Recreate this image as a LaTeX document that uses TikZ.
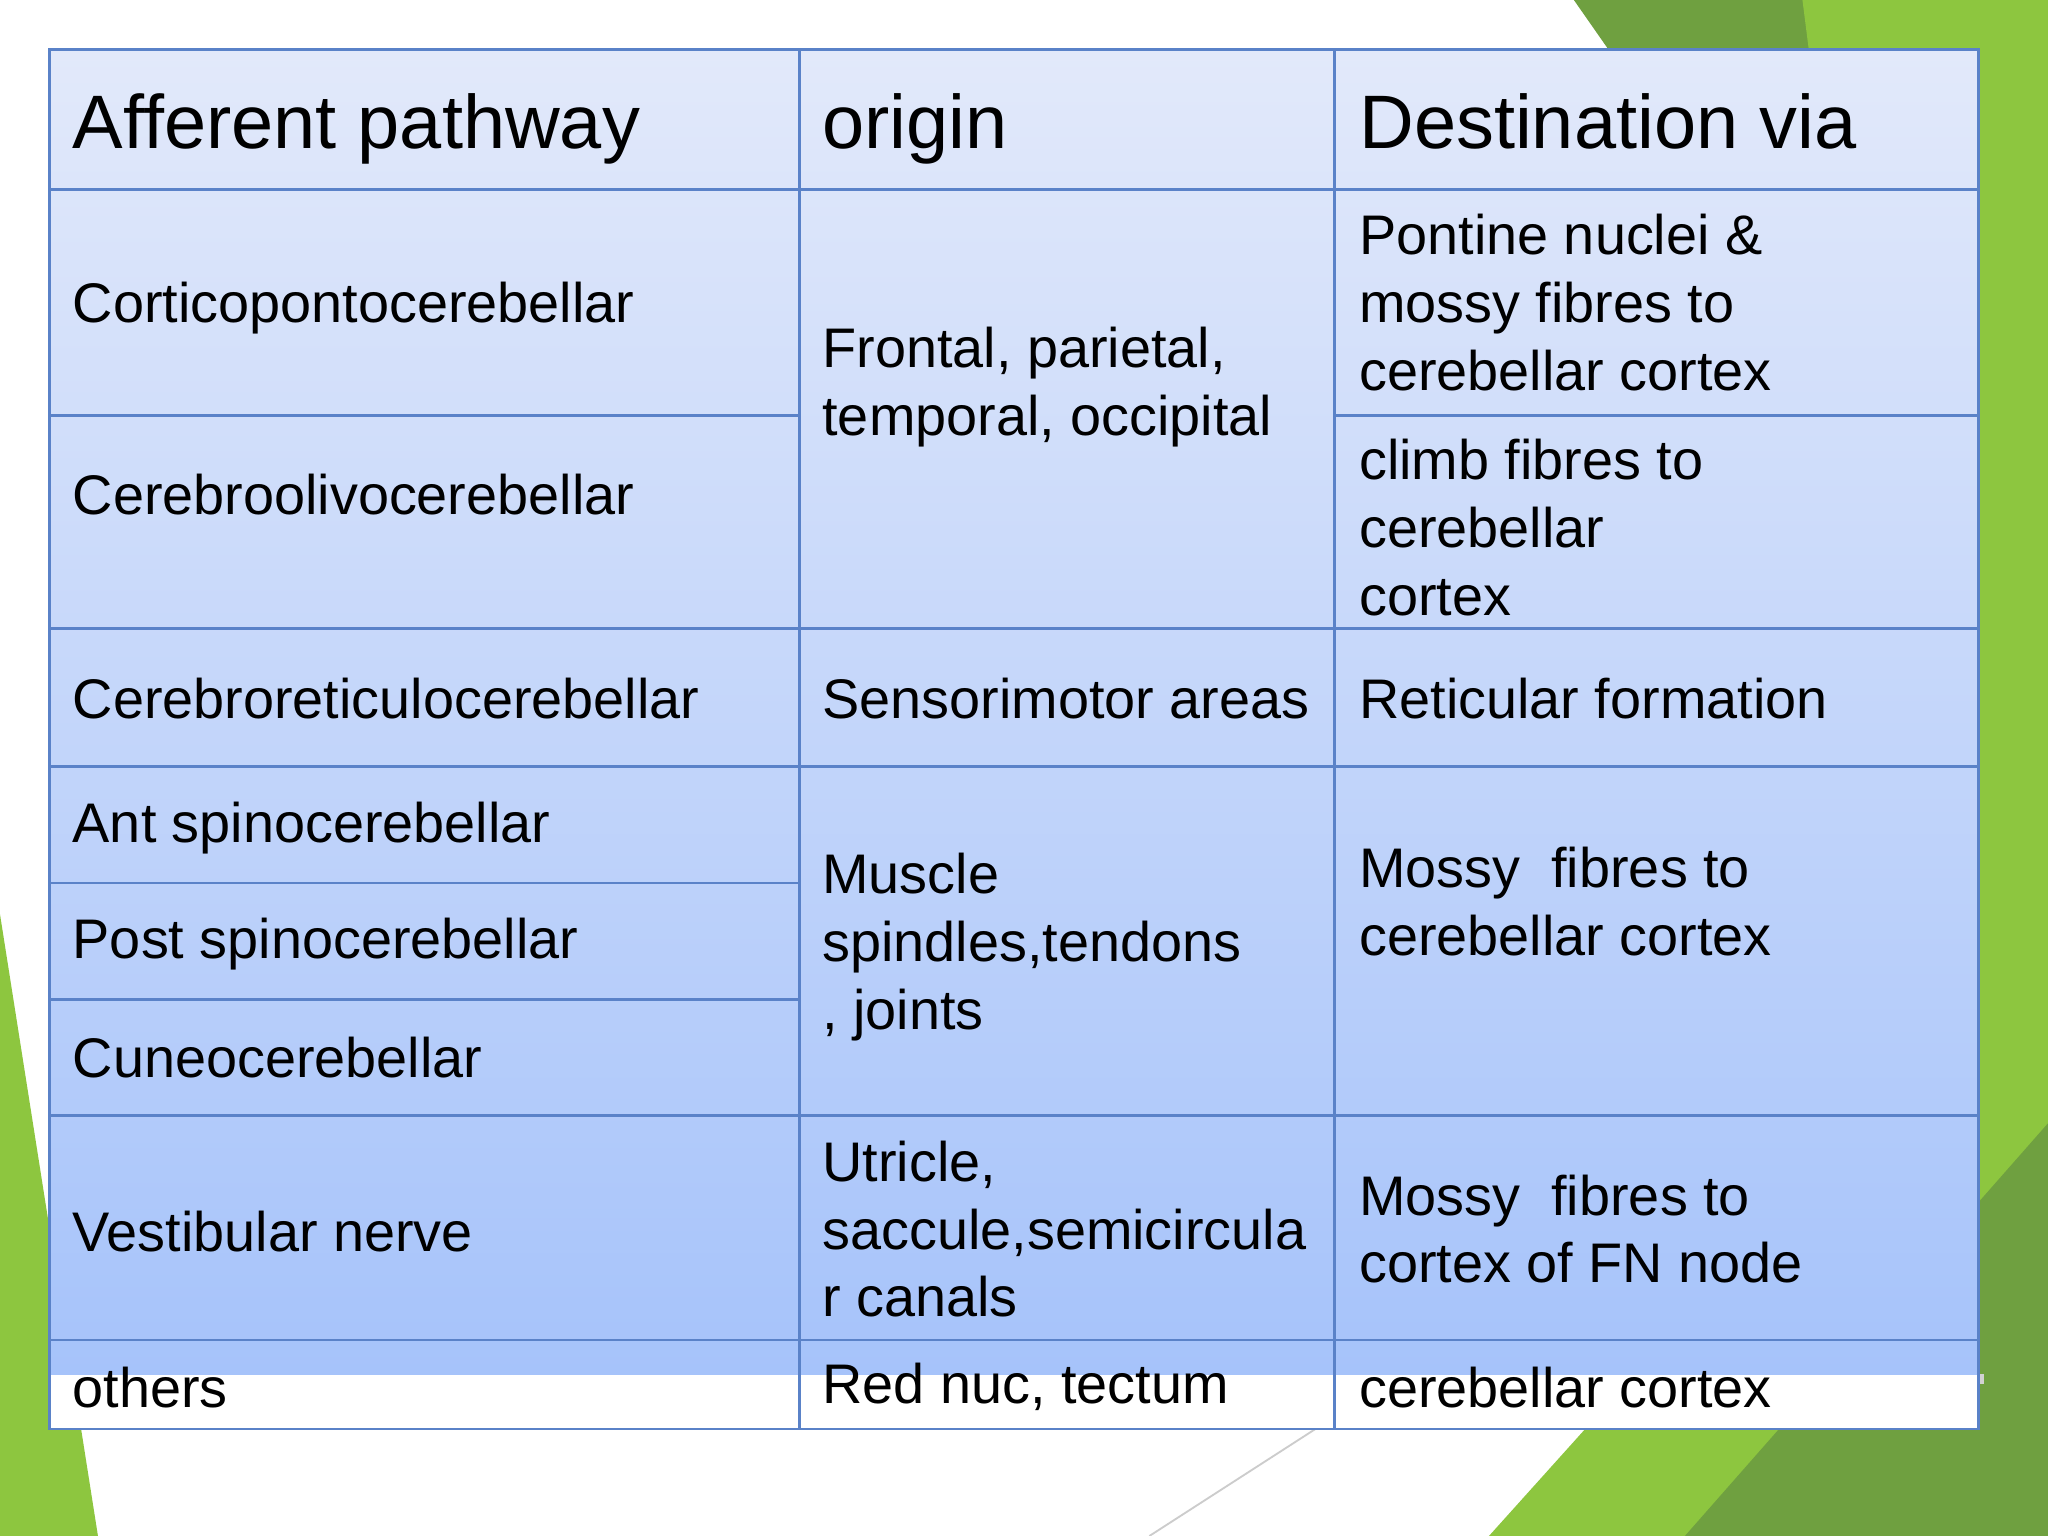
\documentclass[tikz,border=0pt]{standalone}
\usepackage{fontspec}
\setmainfont{Liberation Sans}
\begin{document}
\begin{tikzpicture}[x=0.01cm,y=-0.01cm,
  grid/.style={draw=gridblue,line width=0.6pt},
  hd/.style={anchor=base west,inner sep=0pt,font=\fontsize{16.5pt}{19pt}\selectfont},
  bd/.style={anchor=west,inner sep=0pt,align=left,font=\fontsize{12.15pt}{14.8pt}\selectfont}]
\definecolor{gridblue}{HTML}{5A82C8}
\definecolor{gA}{HTML}{8DC63F}
\definecolor{gB}{HTML}{6FA040}
\useasboundingbox (0,0) rectangle (1568,1176);
\fill[white] (0,0) rectangle (1568,1176);
% green decorations
\fill[gB] (1205,0) -- (1568,0) -- (1568,520) -- cycle;
\fill[gA] (1380,0) -- (1568,0) -- (1568,1176) -- (1530,1176) -- cycle;
\fill[gA] (1140,1176) -- (1568,700) -- (1568,1176) -- cycle;
\fill[gB] (1290,1176) -- (1568,860) -- (1568,1176) -- cycle;
\fill[gA] (0,700) -- (75,1176) -- (0,1176) -- cycle;
\draw[gray!40,line width=0.4pt] (880,1176) -- (1060,1060);
% table
\fill[gray!35] (42,1052) rectangle (1519,1060);
\fill[white] (38,1052) rectangle (1515,1094);
\shade[top color={rgb,255:red,226;green,233;blue,250},bottom color={rgb,255:red,166;green,195;blue,250}] (38,38) rectangle (1515,1052);
\draw[grid] (38,38) rectangle (1515,1094);
\draw[grid] (612,38) -- (612,1094);
\draw[grid] (1022,38) -- (1022,1094);
\draw[grid] (38,145) -- (1515,145);
\draw[grid] (38,318) -- (612,318);
\draw[grid] (1022,318) -- (1515,318);
\draw[grid] (38,481) -- (1515,481);
\draw[grid] (38,587) -- (1515,587);
\draw[grid] (38,676) -- (612,676);
\draw[grid] (38,765) -- (612,765);
\draw[grid] (38,854) -- (1515,854);
\draw[grid] (38,1026) -- (1515,1026);
% text
\node[hd] (h1) at (55,114) {Afferent pathway};
\node[hd] (h2) at (629,114) {origin};
\node[hd] (h3) at (1040,114) {Destination via};
\node[bd] (a1) at (55,236) {Corticopontocerebellar};
\node[bd] (a2) at (55,379) {Cerebroolivocerebellar};
\node[bd] (o1) at (629,296) {Frontal, parietal,\\temporal, occipital};
\node[bd] (d1) at (1040,232) {Pontine nuclei \&\\mossy fibres to\\cerebellar cortex};
\node[bd] (d2) at (1040,404) {climb fibres to\\cerebellar\\cortex};
\node[bd] (a3) at (55,535) {Cerebroreticulocerebellar};
\node[bd] (o3) at (629,535) {Sensorimotor areas};
\node[bd] (d3) at (1040,535) {Reticular formation};
\node[bd] (a4) at (55,634) {Ant spinocerebellar};
\node[bd] (a5) at (55,723) {Post spinocerebellar};
\node[bd] (a6) at (55,810) {Cuneocerebellar};
\node[bd] (o4) at (629,725) {Muscle\\spindles,tendons\\, joints};
\node[bd] (d4) at (1040,690) {Mossy\ \ fibres to\\cerebellar cortex};
\node[bd] (a7) at (55,943) {Vestibular nerve};
\node[bd] (o7) at (629,941) {Utricle,\\saccule,semicircula\\r canals};
\node[bd] (d7) at (1040,941) {Mossy\ \ fibres to\\cortex of FN node};
\node[bd] (a8) at (55,1062) {others};
\node[bd] (o8) at (629,1062) {Red nuc, tectum};
\node[bd] (d8) at (1040,1062) {cerebellar cortex};
\end{tikzpicture}
\end{document}
